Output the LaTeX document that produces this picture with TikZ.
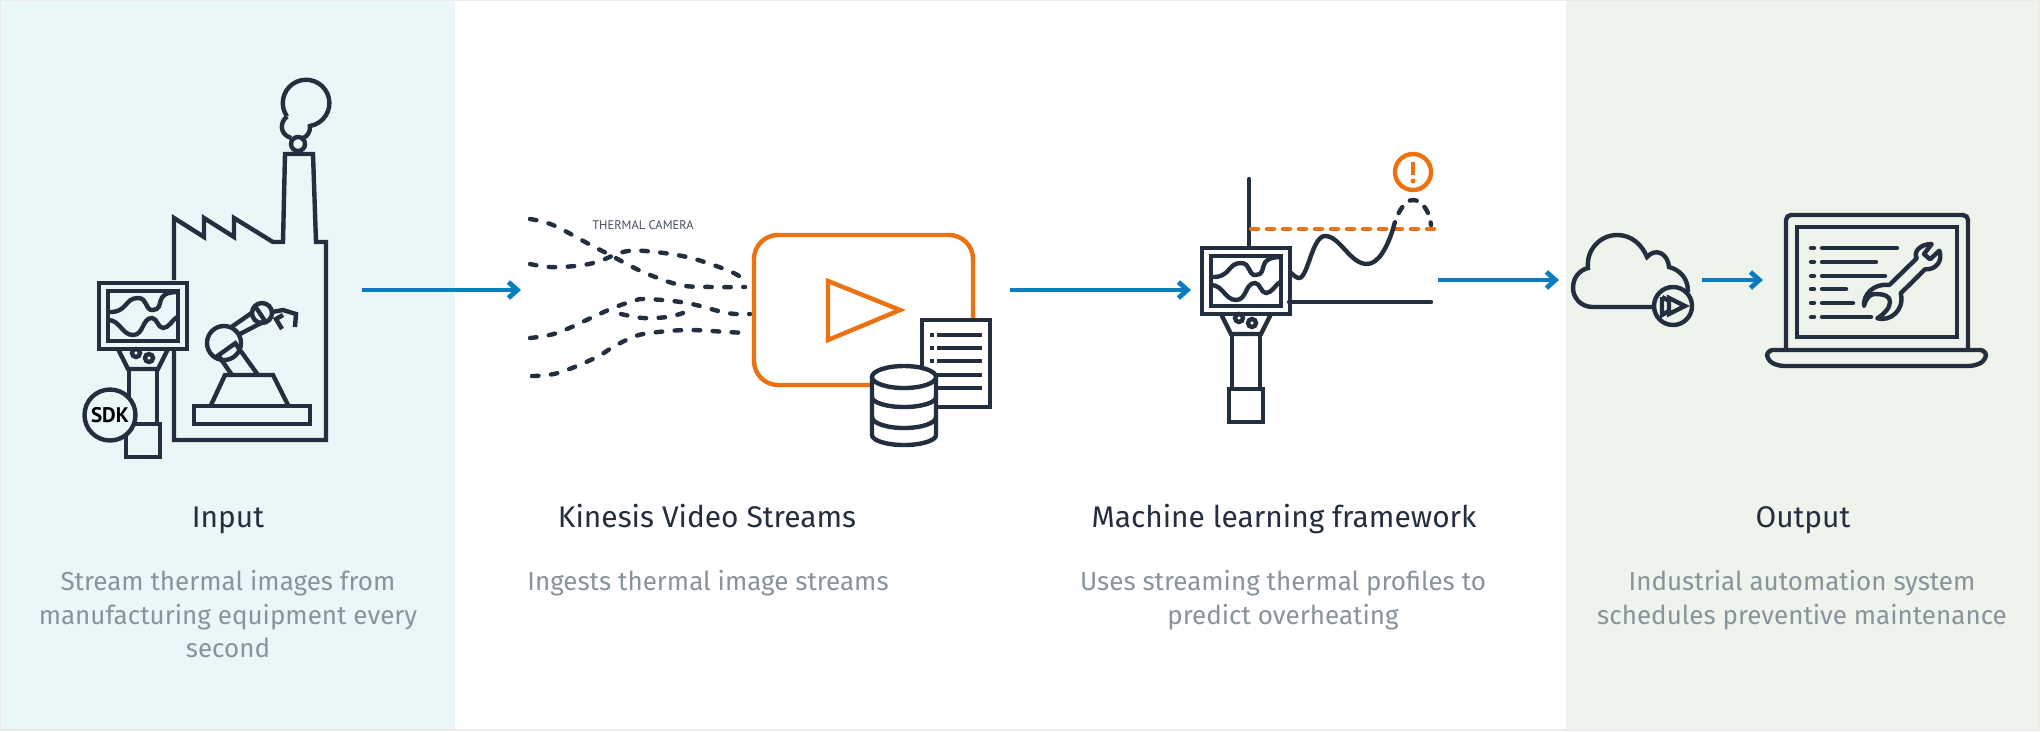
\documentclass[tikz,border=0pt]{standalone}
\usepackage{fontspec}
\setmainfont{Fira Sans}
\newfontfamily\labelfont{PT Sans}
\usetikzlibrary{arrows.meta}
\definecolor{inkdark}{HTML}{232F3E}
\definecolor{inkorange}{HTML}{EC7211}
\definecolor{inkblue}{HTML}{0A7DBE}
\definecolor{inkgray}{HTML}{87949B}
\definecolor{panelblue}{HTML}{E9F7F8}
\definecolor{panelgreen}{HTML}{EEF3EC}
\tikzset{
	icon/.style={line width=0.44mm, color=inkdark, line join=miter},
	flow/.style={line width=0.48mm, color=inkblue, -{Straight Barb[length=0.9mm,width=1.6mm,line width=0.48mm]}},
	stream/.style={line width=0.44mm, color=inkdark, line cap=round, dash pattern=on 0.65mm off 1.25mm},
	title/.style={font=\fontsize{8.5}{9}\selectfont, color=inkdark, align=center, anchor=base},
	caption/.style={font=\fontsize{7.4}{9.64}\selectfont, color=inkgray, align=center, anchor=north}
}
% handheld camera, #1 is the shift and #2 the fill behind it
\def\thermalcam(#1)#2{
	\begin{scope}[shift={(#1)}]
		\draw[icon, fill=#2] (99, 283) rectangle (187, 349);
		\draw[icon] (108, 291) rectangle (178, 341);
		\draw[icon] (108, 312) .. controls (128, 313) and (124, 298) .. (138, 298) .. controls (148, 298) and (145, 311) .. (153, 310) .. controls (166, 309) and (152, 292) .. (178, 292);
		\draw[icon] (108, 320) .. controls (120, 320) and (122, 335) .. (133, 335) .. controls (144, 335) and (142, 318) .. (152, 318) .. controls (157, 318) and (158, 328) .. (163, 328) .. controls (169, 328) and (172, 320) .. (177, 317);
		\draw[icon] (118, 349) -- (128, 369) -- (158, 369) -- (168, 349);
		\draw[icon] (136, 353) circle (4);
		\draw[icon] (149, 358) circle (4);
		\draw[icon] (129, 369) rectangle (157, 424);
		\draw[icon, fill=#2] (126, 424) rectangle (160, 457);
	\end{scope}
}

\begin{document}
\begin{tikzpicture}[x=0.1mm, y=-0.1mm]
	\useasboundingbox (0, 0) rectangle (2040, 732);
	%%%%% PANELS %%%%%
	\fill[white] (0, 0) rectangle (2040, 732);
	\fill[panelblue] (0, 0) rectangle (455, 729);
	\fill[panelgreen] (1566, 0) rectangle (2040, 729);
	\draw[line width=0.15mm, color=black!8] (0, 0) rectangle (2040, 730);

	%%%%% FACTORY %%%%%
	\draw[icon] (174, 280) -- (174, 218) -- (204, 237) -- (204, 218) -- (234, 237) -- (234, 218) -- (273, 242) -- (283, 242) -- (285, 154) -- (313, 154) -- (316, 242) -- (326, 242) -- (326, 440) -- (174, 440) -- (174, 350);
	\draw[icon] (287, 116.4) arc (145:441:23.3) .. controls (311, 131) and (307, 137) .. (303, 138);
	\draw[icon] (287, 116.4) .. controls (280, 122) and (279, 134) .. (291, 138);
	\draw[icon] (298, 144) circle (7);
	% robot
	\draw[icon] (194, 406) rectangle (310, 424);
	\draw[icon] (211, 405) -- (225, 375) -- (273, 375) -- (288, 405);
	\draw[icon] (224, 343) circle (17);
	\draw[icon] (216, 357) -- (237, 342);
	\draw[icon] (218, 355) -- (232, 375);
	\draw[icon] (235, 343) -- (258, 375);
	\draw[icon] (230, 328) -- (253, 312);
	\draw[icon] (238, 335) -- (263, 322);
	\draw[icon] (262, 313) circle (10);
	\draw[icon] (255, 306) -- (265, 321);
	\draw[icon] (272, 312) -- (283, 310) -- (296, 314) -- (295, 327);
	\draw[icon] (283, 315) -- (276, 319) -- (282, 329);

	\thermalcam(0, 0){panelblue}
	\node[draw=inkdark, line width=0.44mm, fill=panelblue, circle, minimum size=5.1mm, inner sep=0pt, font=\labelfont\bfseries\fontsize{6}{7}\selectfont, text=black] (sdk) at (110, 415) {SDK};

	%%%%% STREAMS %%%%%
	\draw[stream] plot[smooth, tension=0.6] coordinates {(530, 219) (553, 225) (587, 243) (610, 255) (643, 272) (680, 285) (712, 287) (745, 287)};
	\draw[stream] plot[smooth, tension=0.6] coordinates {(530, 264) (550, 267) (575, 266) (597, 262) (623, 252) (645, 251) (687, 257) (727, 270) (742, 278)};
	\draw[stream] plot[smooth, tension=0.6] coordinates {(530, 338) (557, 333) (593, 317) (613, 308) (633, 301) (647, 299) (687, 303) (727, 313) (750, 314)};
	\draw[stream] plot[smooth, tension=0.6] coordinates {(621, 314) (643, 318) (667, 317) (683, 313)};
	\draw[stream] plot[smooth, tension=0.6] coordinates {(532, 376) (558, 373) (595, 358) (613, 347) (633, 337) (650, 333) (687, 330) (727, 332) (745, 333)};
	\node[font=\labelfont\fontsize{3.55}{4}\selectfont, color=inkdark!85] (thermal) at (643, 225) {THERMAL CAMERA};

	%%%%% VIDEO STREAM ICON %%%%%
	\draw[line width=0.44mm, color=inkorange, rounded corners=2.4mm] (754, 235) rectangle (973, 385);
	\draw[line width=0.44mm, color=inkorange] (828, 281) -- (900, 310) -- (828, 340) -- cycle;
	\draw[icon, fill=white] (922, 320) rectangle (990, 407);
	\foreach \y in {335, 348, 361} {
		\draw[icon] (930, \y) -- (934, \y);
	}
	\foreach \y in {335, 348, 361, 375, 388} {
		\draw[icon] (937, \y) -- (982, \y);
	}
	\draw[icon, fill=white] (872, 377) -- (872, 435) arc (180:0:32 and 10) -- (936, 377);
	\draw[icon, fill=white] (904, 377) ellipse (32 and 11);
	\draw[icon] (872, 397) arc (180:0:32 and 10);
	\draw[icon] (872, 417) arc (180:0:32 and 11);

	%%%%% ML CHART %%%%%
	\thermalcam(1103, -35){white}
	\draw[icon, line cap=round] (1249, 179) -- (1249, 248);
	\draw[icon, line cap=round] (1289, 302) -- (1431, 302);
	\draw[line width=0.44mm, color=inkorange, line cap=round, dash pattern=on 0.7mm off 0.9mm] (1251, 229) -- (1434, 229);
	\draw[icon] (1290, 272) .. controls (1294, 276) and (1297, 278) .. (1299, 278) .. controls (1308, 278) and (1312, 236) .. (1325, 236) .. controls (1340, 236) and (1350, 264) .. (1367, 264) .. controls (1378, 264) and (1387, 248) .. (1393, 229);
	\draw[icon, line cap=round, dash pattern=on 0.7mm off 1mm] (1393, 229) .. controls (1397, 212) and (1405, 200) .. (1413, 200) .. controls (1422, 200) and (1430, 212) .. (1431, 225);
	\draw[line width=0.44mm, color=inkorange] (1413, 172) circle (18);
	\draw[line width=0.44mm, color=inkorange] (1413, 162) -- (1413, 175);
	\fill[inkorange] (1413, 181) circle (2.5);

	%%%%% CLOUD %%%%%
	\draw[icon] (1654, 307) -- (1593, 307) .. controls (1580, 307) and (1573, 297) .. (1573, 288) .. controls (1573, 277) and (1580, 270) .. (1588, 268) .. controls (1586, 250) and (1600, 235) .. (1617, 235) .. controls (1632, 235) and (1642, 245) .. (1647, 257) .. controls (1656, 247) and (1668, 254) .. (1669, 267) .. controls (1680, 270) and (1688, 278) .. (1688, 292);
	\draw[icon] (1673, 306) circle (19);
	\draw[icon] (1669, 298) -- (1685, 306) -- (1669, 314) -- cycle;
	\draw[icon] (1662, 297) -- (1662, 315) -- (1669, 311);
	\draw[icon] (1662, 297) -- (1669, 301);

	%%%%% LAPTOP %%%%%
	\draw[icon, rounded corners=0.5mm] (1786, 350) -- (1786, 215) -- (1968, 215) -- (1968, 350);
	\draw[icon] (1797, 227) rectangle (1957, 337);
	\draw[icon, rounded corners=0.6mm] (1767, 350) -- (1986, 350) -- (1986, 360) -- (1975, 366) -- (1778, 366) -- (1767, 360) -- cycle;
	\foreach \y/\xend in {248/1897, 262/1876, 276/1885, 289/1846, 303/1853, 317/1871} {
		\draw[icon, line cap=round] (1811, \y) -- (1814, \y);
		\draw[icon, line cap=round] (1822, \y) -- (\xend, \y);
	}
	\draw[icon, line cap=round, line join=round] (1931.7, 244) .. controls (1920, 244) and (1913, 252) .. (1916.7, 258.3) -- (1889.3, 285) .. controls (1873, 283) and (1863, 295) .. (1864, 306) .. controls (1866, 298) and (1870, 294) .. (1875, 294) .. controls (1884, 294) and (1890, 296) .. (1890, 301.7) .. controls (1890, 308) and (1884, 314) .. (1877.3, 318.3) .. controls (1890, 322) and (1905, 310) .. (1900.7, 293.3) -- (1925, 269.3) .. controls (1936, 270) and (1943, 261) .. (1939.3, 250.7) -- (1930, 259.3) -- (1924, 254) -- cycle;

	%%%%% ARROWS %%%%%
	\coordinate (factoryout) at (362, 290);
	\coordinate (streamin) at (521, 290);
	\coordinate (streamout) at (1010, 290);
	\coordinate (camin) at (1191, 290);
	\coordinate (chartout) at (1438, 280);
	\coordinate (cloudin) at (1559, 280);
	\coordinate (cloudout) at (1702, 280);
	\coordinate (laptopin) at (1763, 280);
	\draw[flow] (factoryout) -- (streamin);
	\draw[flow] (streamout) -- (camin);
	\draw[flow] (chartout) -- (cloudin);
	\draw[flow] (cloudout) -- (laptopin);

	%%%%% TEXT %%%%%
	\node[title] (input) at (228, 527) {Input};
	\node[title] (kvs) at (707, 527) {Kinesis Video Streams};
	\node[title] (mlf) at (1284, 527) {Machine learning framework};
	\node[title] (output) at (1803, 527) {Output};
	\node[caption] (inputtxt) at (228, 557.5) {Stream thermal images from\\manufacturing equipment every\\second};
	\node[caption] (kvstxt) at (708, 557.5) {Ingests thermal image streams};
	\node[caption] (mlftxt) at (1283, 557.5) {Uses streaming thermal profiles to\\predict overheating};
	\node[caption] (outputtxt) at (1802, 557.5) {Industrial automation system\\schedules preventive maintenance};
\end{tikzpicture}
\end{document}
